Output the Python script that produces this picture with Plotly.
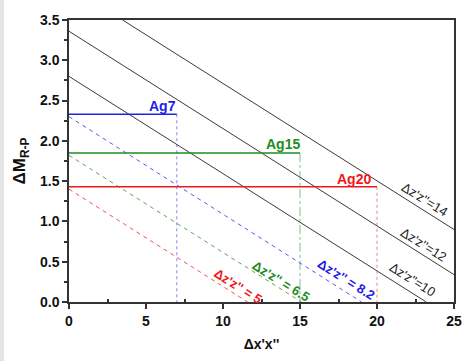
import plotly.graph_objects as go

# Solid black iso-lines (Δz'z'' = 14, 12, 10): endpoints
black_labels = ["Δz'z''=14", "Δz'z''=12", "Δz'z''=10"]
black_x = [[3.48, 25.0], [0.0, 25.0], [0.0, 23.2]]
black_y = [[3.50, 0.90], [3.36, 0.34], [2.80, 0.0]]
black_lab_x = [23.1, 23.0, 22.3]
black_lab_y = [1.27, 0.71, 0.28]

# Dashed coloured iso-lines (Δz'z'' = 5, 6.5, 8.2)
dash_labels = ["Δz'z'' = 5", "Δz'z'' = 6.5", "Δz'z'' = 8.2"]
dash_colors = ["#f01818", "#1e8c1e", "#2222e6"]
dash_x = [[0.0, 11.6], [0.0, 15.1], [0.0, 19.0]]
dash_y = [[1.40, 0.0], [1.82, 0.0], [2.30, 0.0]]
dash_lab_x = [11.0, 13.8, 18.0]
dash_lab_y = [0.19, 0.26, 0.28]

# Samples: horizontal level + vertical drop
samples = ["Ag7", "Ag15", "Ag20"]
sample_colors = ["#2222e6", "#1e8c1e", "#f01818"]
sample_dx = [7, 15, 20]
sample_dm = [2.33, 1.85, 1.43]
sample_vdash = ["dot", "dashdot", "dot"]
sample_lab_x = [6.1, 13.9, 18.5]
sample_lab_y = [2.43, 1.96, 1.53]

x_ticks = [0, 5, 10, 15, 20, 25]
y_ticks = [0.0, 0.5, 1.0, 1.5, 2.0, 2.5, 3.0, 3.5]

FONT = "Liberation Sans, Arial, sans-serif"

fig = go.Figure()

for xs, ys in zip(black_x, black_y):
    fig.add_trace(go.Scatter(x=xs, y=ys, mode="lines",
                             line=dict(color="#3a3a3a", width=1), showlegend=False))

for xs, ys, c in zip(dash_x, dash_y, dash_colors):
    fig.add_trace(go.Scatter(x=xs, y=ys, mode="lines",
                             line=dict(color=c, width=1, dash="4px,4px"), opacity=0.75,
                             showlegend=False))

for dx, dm, c, vd in zip(sample_dx, sample_dm, sample_colors, sample_vdash):
    fig.add_trace(go.Scatter(x=[0, dx], y=[dm, dm], mode="lines",
                             line=dict(color=c, width=1.5), showlegend=False))
    fig.add_trace(go.Scatter(x=[dx, dx], y=[dm, 0], mode="lines",
                             line=dict(color=c, width=1, dash=vd), opacity=0.55,
                             showlegend=False))

ann = []
for t, x, y in zip(black_labels, black_lab_x, black_lab_y):
    ann.append(dict(x=x, y=y, text=t, showarrow=False, textangle=32,
                    font=dict(family=FONT, size=13, color="#222222")))
for t, x, y, c in zip(dash_labels, dash_lab_x, dash_lab_y, dash_colors):
    ann.append(dict(x=x, y=y, text="<b>" + t + "</b>", showarrow=False, textangle=32,
                    font=dict(family=FONT, size=13, color=c)))
for t, x, y, c in zip(samples, sample_lab_x, sample_lab_y, sample_colors):
    ann.append(dict(x=x, y=y, text="<b>" + t + "</b>", showarrow=False,
                    font=dict(family=FONT, size=14, color=c)))

fig.update_layout(
    width=474, height=361,
    margin=dict(l=69, r=20, t=20, b=59),
    paper_bgcolor="white", plot_bgcolor="white",
    font=dict(family=FONT, color="#111111"),
    annotations=ann,
    shapes=[dict(type="rect", xref="paper", yref="paper",
                 x0=-69 / 385, x1=-65 / 385, y0=-59 / 282, y1=1 + 20 / 282,
                 fillcolor="#e4e4e4", line=dict(width=0), layer="above")],
    xaxis=dict(range=[0, 25], tickvals=x_ticks, ticktext=["<b>%g</b>" % v for v in x_ticks],
               showgrid=False, zeroline=False, showline=True, mirror=True,
               linecolor="#333333", linewidth=1.5, ticks="outside", ticklen=5,
               tickwidth=1.5, tickcolor="#333333",
               minor=dict(tickvals=[2.5, 7.5, 12.5, 17.5, 22.5], ticks="inside",
                          ticklen=3, tickcolor="#333333"),
               tickfont=dict(size=14, family=FONT, color="#111111"),
               title=dict(text="<b>Δx'x''</b>", font=dict(size=14, family=FONT), standoff=12)),
    yaxis=dict(range=[0, 3.5], tickvals=y_ticks, ticktext=["<b>%.1f</b>" % v for v in y_ticks],
               showgrid=False, zeroline=False, showline=True, mirror=True,
               linecolor="#333333", linewidth=1.5, ticks="outside", ticklen=5,
               tickwidth=1.5, tickcolor="#333333",
               minor=dict(tickvals=[0.25, 0.75, 1.25, 1.75, 2.25, 2.75, 3.25], ticks="outside",
                          ticklen=3, tickcolor="#333333"),
               tickfont=dict(size=14, family=FONT, color="#111111"),
               title=dict(text="<b>ΔM<sub>R-P</sub></b>", font=dict(size=17, family=FONT),
                          standoff=10)),
)

fig.write_html("out.html", config={"displayModeBar": False},
               post_script="document.body.style.margin='0';")
